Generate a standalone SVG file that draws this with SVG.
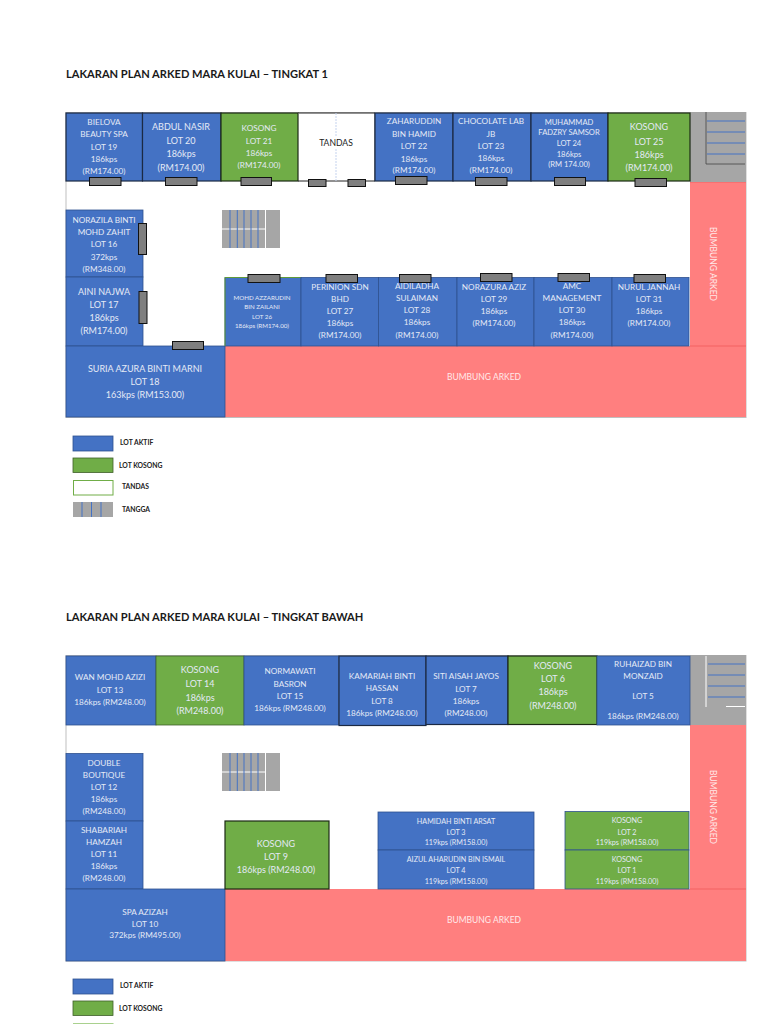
<svg xmlns="http://www.w3.org/2000/svg" width="768" height="1024" viewBox="0 0 768 1024">
<style>
text{font-family:"Lato","Liberation Sans",sans-serif;text-anchor:middle;dominant-baseline:central;fill:#e4eaf6;font-size:9px}
.title{font-weight:700;font-size:11.1px;fill:#1a1a1a;text-anchor:start}
.leg{font-size:6.8px;fill:#222;font-weight:700;text-anchor:start}
.s{font-size:7.6px}.xs{font-size:6.2px}.xt{font-size:7.2px}.m{font-size:8.2px}.l{font-size:9.5px}
.rf{font-size:8.5px;fill:#ffe9e9}
.a{fill:#4472c4;stroke:#2f528f;stroke-width:.8}
.ak{fill:#4472c4;stroke:#1b2a44;stroke-width:1.2}
.g{fill:#70ad47;stroke:#3f5f2a;stroke-width:.8}
.gk{fill:#70ad47;stroke:#1c2a14;stroke-width:1.2}
.gb{fill:#70ad47;stroke:#2f528f;stroke-width:.8}
.roof{fill:#ff7f7f}
.door{fill:#7f7f7f;stroke:#111;stroke-width:1}
.st{fill:#a6a6a6}
.bl{stroke:#4472c4;stroke-width:1}
.wl{stroke:#fff;stroke-width:1}
.edge{fill:#fff;stroke:#bfbfbf;stroke-width:1}
</style>
<defs>
<g id="stair"><rect class="st" x="222" y="0" width="43" height="38"/><rect class="st" x="266" y="0" width="14" height="38"/><path class="wl" d="M222 19H265"/><path class="bl" d="M230 0V38M237.300 0V38M244 0V38M251 0V38M258 0V38"/></g>
</defs>

<g id="title-1"><text class="title" x="66" y="73">LAKARAN PLAN ARKED MARA KULAI – TINGKAT 1</text></g>
<rect class="edge" x="66" y="112.500" width="680" height="305"/>

<g id="roof-1"><rect class="roof" x="225" y="346" width="521" height="71"/><rect class="roof" x="690" y="182" width="56" height="164"/><path d="M690 346H746" stroke="#f05a5a" stroke-width=".8"/><path d="M690 182H746" stroke="#f05a5a" stroke-width=".8"/>
<text x="484" y="377" class="rf">BUMBUNG ARKED</text><text class="rf" transform="translate(713 264) rotate(90)">BUMBUNG ARKED</text></g>

<g id="stairs-1a"><rect class="st" x="690" y="112" width="56" height="70"/><path d="M706 112V164H745" fill="none" stroke="#444" stroke-width=".8"/><path class="bl" d="M707 121H745M707 132H745M707 143H745M707 154H745"/></g>

<g id="lot19"><rect class="ak" x="66" y="113" width="76.500" height="68"/><text x="104" y="122" class="m">BIELOVA</text><text x="104" y="134" class="m">BEAUTY SPA</text><text x="104" y="146.500" class="m">LOT 19</text><text x="104" y="159" class="m">186kps</text><text x="104" y="171" class="m">(RM174.00)</text></g>
<g id="lot20"><rect class="ak" x="142.500" y="113" width="78.500" height="68"/><text x="181" y="126">ABDUL NASIR</text><text x="181" y="140">LOT 20</text><text x="181" y="153">186kps</text><text x="181" y="167">(RM174.00)</text></g>
<g id="lot21"><rect class="gk" x="221" y="113" width="77" height="68"/><text x="259" y="128" class="m">KOSONG</text><text x="259" y="141" class="m">LOT 21</text><text x="259" y="153" class="m">186kps</text><text x="259" y="165" class="m">(RM174.00)</text></g>
<g id="tandas"><path d="M298 113H375V181" fill="#fff" stroke="#222" stroke-width="1"/><path d="M298 181H375" stroke="#222" stroke-width="1"/><path d="M336 113V181" stroke="#c5d3ee" stroke-width="1" stroke-dasharray="2 1"/><rect x="318" y="137" width="36" height="11" fill="#fff"/><text x="336" y="142.500" class="m" style="fill:#222;font-size:8.6px">TANDAS</text></g>
<g id="lot22"><rect class="ak" x="375" y="113" width="78" height="68"/><text x="414" y="121" class="m">ZAHARUDDIN</text><text x="414" y="133.500" class="m">BIN HAMID</text><text x="414" y="146" class="m">LOT 22</text><text x="414" y="158.500" class="m">186kps</text><text x="414" y="170" class="m">(RM174.00)</text></g>
<g id="lot23"><rect class="ak" x="453" y="113" width="78" height="68"/><text x="491" y="121" class="m">CHOCOLATE LAB</text><text x="491" y="134" class="m">JB</text><text x="491" y="146" class="m">LOT 23</text><text x="491" y="158" class="m">186kps</text><text x="491" y="170" class="m">(RM174.00)</text></g>
<g id="lot24"><rect class="ak" x="531" y="113" width="77" height="68"/><text x="569" y="121.500" class="s">MUHAMMAD</text><text x="569" y="131.500" class="s">FADZRY SAMSOR</text><text x="569" y="143" class="s">LOT 24</text><text x="569" y="154" class="s">186kps</text><text x="569" y="164" class="s">(RM 174.00)</text></g>
<g id="lot25"><rect class="gk" x="608" y="113" width="82" height="68"/><text x="649" y="126">KOSONG</text><text x="649" y="141">LOT 25</text><text x="649" y="154">186kps</text><text x="649" y="167">(RM174.00)</text></g>

<g id="stairs-1b"><use href="#stair" y="210"/></g>

<g id="lot16"><rect class="a" x="66" y="210" width="77" height="67"/><text x="104" y="220" class="m">NORAZILA BINTI</text><text x="104" y="231.500" class="m">MOHD ZAHIT</text><text x="104" y="244" class="m">LOT 16</text><text x="104" y="256.500" class="m">372kps</text><text x="104" y="269" class="m">(RM348.00)</text></g>
<g id="lot17"><rect class="a" x="66" y="277" width="77" height="69"/><text x="104" y="291">AINI NAJWA</text><text x="104" y="304">LOT 17</text><text x="104" y="317.500">186kps</text><text x="104" y="330.500">(RM174.00)</text></g>
<g id="lot18"><rect class="a" x="66" y="346" width="159" height="71"/><text x="145" y="368">SURIA AZURA BINTI MARNI</text><text x="145" y="381">LOT 18</text><text x="145" y="394">163kps (RM153.00)</text></g>
<g id="lot26"><rect class="a" x="225" y="277.500" width="76" height="68.500"/><path d="M225 346V277.500H301" fill="none" stroke="#5f9a3a" stroke-width="1"/><text x="262" y="297" class="xs">MOHD AZZARUDIN</text><text x="262" y="306" class="xs">BIN ZAILANI</text><text x="262" y="316" class="xs">LOT 26</text><text x="262" y="325" class="xs">186kps (RM174.00)</text></g>
<g id="lot27"><rect class="a" x="301" y="277.500" width="77.500" height="68.500"/><text x="340" y="287" class="m">PERINION SDN</text><text x="340" y="299" class="m">BHD</text><text x="340" y="311" class="m">LOT 27</text><text x="340" y="323" class="m">186kps</text><text x="340" y="335" class="m">(RM174.00)</text></g>
<g id="lot28"><rect class="a" x="378.500" y="277.500" width="78.500" height="68.500"/><text x="417" y="286" class="m">AIDILADHA</text><text x="417" y="298" class="m">SULAIMAN</text><text x="417" y="310" class="m">LOT 28</text><text x="417" y="322" class="m">186kps</text><text x="417" y="335" class="m">(RM174.00)</text></g>
<g id="lot29"><rect class="a" x="457" y="277.500" width="77" height="68.500"/><text x="494" y="287" class="m">NORAZURA AZIZ</text><text x="494" y="299" class="m">LOT 29</text><text x="494" y="311" class="m">186kps</text><text x="494" y="323" class="m">(RM174.00)</text></g>
<g id="lot30"><rect class="a" x="534" y="277.500" width="78" height="68.500"/><text x="572" y="286" class="m">AMC</text><text x="572" y="298" class="m">MANAGEMENT</text><text x="572" y="310" class="m">LOT 30</text><text x="572" y="322" class="m">186kps</text><text x="572" y="335" class="m">(RM174.00)</text></g>
<g id="lot31"><rect class="a" x="612" y="277.500" width="77" height="68.500"/><text x="649" y="287" class="m">NURUL JANNAH</text><text x="649" y="299" class="m">LOT 31</text><text x="649" y="311" class="m">186kps</text><text x="649" y="323" class="m">(RM174.00)</text></g>

<g id="doors-1">
<rect class="door" x="89.500" y="177.500" width="31.500" height="8"/><rect class="door" x="165.500" y="177.500" width="31.500" height="8"/><rect class="door" x="241" y="177.500" width="30.500" height="8"/><rect class="door" x="308.500" y="179.500" width="17.500" height="7"/><rect class="door" x="348" y="179.500" width="17.500" height="7"/><rect class="door" x="395.500" y="176.500" width="31.500" height="8"/><rect class="door" x="475.500" y="177.500" width="31.500" height="8"/><rect class="door" x="554.500" y="177.500" width="31" height="8"/><rect class="door" x="635" y="178.500" width="31.500" height="8"/>
<rect class="door" x="138.500" y="223.500" width="8" height="31"/><rect class="door" x="139" y="291.500" width="8" height="32"/><rect class="door" x="172.500" y="341.500" width="31" height="8"/>
<rect class="door" x="248" y="274.500" width="32" height="8"/><rect class="door" x="326" y="274.500" width="31.500" height="8"/><rect class="door" x="399.500" y="274.500" width="31.500" height="8"/><rect class="door" x="480.500" y="273.500" width="31.500" height="8"/><rect class="door" x="558" y="273.500" width="31.500" height="8"/><rect class="door" x="634" y="274.500" width="31.500" height="8"/>
</g>

<g id="legend-1">
<rect class="a" x="73" y="436" width="40" height="15"/><text class="leg" x="120" y="442">LOT AKTIF</text>
<rect class="g" x="73" y="458" width="40" height="14.500"/><text class="leg" x="119" y="464.500">LOT KOSONG</text>
<rect x="73.500" y="480.500" width="39.500" height="14.500" fill="#fff" stroke="#70ad47" stroke-width="1"/><text class="leg" x="122" y="486">TANDAS</text>
<rect class="st" x="73" y="502" width="40" height="15"/><path class="bl" d="M82 502V517M91.500 502V517M101 502V517"/><text class="leg" x="122" y="509">TANGGA</text>
</g>

<g id="title-2"><text class="title" x="66" y="616">LAKARAN PLAN ARKED MARA KULAI – TINGKAT BAWAH</text></g>
<rect class="edge" x="66" y="655.500" width="680" height="305.500"/>

<g id="roof-2"><rect class="roof" x="225" y="889" width="521" height="72"/><rect class="roof" x="690" y="725" width="56" height="164"/><path d="M690 889H746" stroke="#f05a5a" stroke-width=".8"/>
<text x="484" y="920" class="rf">BUMBUNG ARKED</text><text class="rf" transform="translate(713 807) rotate(90)">BUMBUNG ARKED</text></g>

<g id="stairs-2a"><rect class="st" x="690" y="655" width="56" height="70"/><path d="M706 656V707M726 706.500H745" fill="none" stroke="#fff" stroke-width="1"/><path class="bl" d="M708 664H745M708 675H745M708 686H745M708 697H745"/></g>

<g id="lot13"><rect class="a" x="66" y="656" width="90" height="69"/><text x="110" y="677" class="m">WAN MOHD AZIZI</text><text x="110" y="690" class="m">LOT 13</text><text x="110" y="702" class="m">186kps (RM248.00)</text></g>
<g id="lot14"><rect class="g" x="156" y="656" width="88" height="69"/><text x="200" y="669">KOSONG</text><text x="200" y="683">LOT 14</text><text x="200" y="697">186kps</text><text x="200" y="710">(RM248.00)</text></g>
<g id="lot15"><rect class="a" x="244" y="656" width="94.500" height="69"/><text x="290" y="671" class="m">NORMAWATI</text><text x="290" y="683.500" class="m">BASRON</text><text x="290" y="696" class="m">LOT 15</text><text x="290" y="708" class="m">186kps (RM248.00)</text></g>
<g id="lot8"><rect class="ak" x="339" y="656" width="87" height="69.500"/><text x="382" y="676" class="m">KAMARIAH BINTI</text><text x="382" y="688" class="m">HASSAN</text><text x="382" y="701" class="m">LOT 8</text><text x="382" y="713" class="m">186kps (RM248.00)</text></g>
<g id="lot7"><rect class="ak" x="426" y="656" width="82" height="68.500"/><text x="466" y="676" class="m">SITI AISAH JAYOS</text><text x="466" y="688.500" class="m">LOT 7</text><text x="466" y="701" class="m">186kps</text><text x="466" y="713" class="m">(RM248.00)</text></g>
<g id="lot6"><rect class="gk" x="508" y="656" width="89" height="68.500"/><text x="553" y="665">KOSONG</text><text x="553" y="678">LOT 6</text><text x="553" y="691">186kps</text><text x="553" y="705">(RM248.00)</text></g>
<g id="lot5"><rect class="a" x="597" y="656" width="93" height="69"/><text x="643" y="664" class="m">RUHAIZAD BIN</text><text x="643" y="676" class="m">MONZAID</text><text x="643" y="696" class="m">LOT 5</text><text x="643" y="716" class="m">186kps (RM248.00)</text></g>

<g id="stairs-2b"><use href="#stair" y="753"/></g>

<g id="lot12"><rect class="a" x="66" y="753.500" width="77" height="67.500"/><text x="104" y="763" class="m">DOUBLE</text><text x="104" y="774.500" class="m">BOUTIQUE</text><text x="104" y="786.500" class="m">LOT 12</text><text x="104" y="799" class="m">186kps</text><text x="104" y="811" class="m">(RM248.00)</text></g>
<g id="lot11"><rect class="a" x="66" y="821" width="77" height="68"/><text x="104" y="830" class="m">SHABARIAH</text><text x="104" y="842" class="m">HAMZAH</text><text x="104" y="853.500" class="m">LOT 11</text><text x="104" y="866" class="m">186kps</text><text x="104" y="877.500" class="m">(RM248.00)</text></g>
<g id="lot10"><rect class="a" x="66" y="889" width="159" height="72"/><text x="145" y="912" class="m">SPA AZIZAH</text><text x="145" y="924" class="m">LOT 10</text><text x="145" y="935" class="m">372kps (RM495.00)</text></g>
<g id="lot9"><rect class="gk" x="225" y="821" width="104" height="68"/><text x="276" y="843">KOSONG</text><text x="276" y="856.500">LOT 9</text><text x="276" y="869.500">186kps (RM248.00)</text></g>
<g id="lot3"><rect class="a" x="378" y="812" width="156" height="38"/><text x="456" y="821" class="xt">HAMIDAH BINTI ARSAT</text><text x="456" y="832" class="xt">LOT 3</text><text x="456" y="842.500" class="xt">119kps (RM158.00)</text></g>
<g id="lot4"><rect class="a" x="378" y="850" width="156" height="39"/><text x="456" y="859" class="xt">AIZUL AHARUDIN BIN ISMAIL</text><text x="456" y="870" class="xt">LOT 4</text><text x="456" y="881" class="xt">119kps (RM158.00)</text></g>
<g id="lot2"><rect class="gb" x="565" y="811.500" width="124" height="38.500"/><text x="627" y="820" class="xt">KOSONG</text><text x="627" y="832" class="xt">LOT 2</text><text x="627" y="842" class="xt">119kps (RM158.00)</text></g>
<g id="lot1"><rect class="gb" x="565" y="850" width="124" height="39"/><text x="627" y="859" class="xt">KOSONG</text><text x="627" y="870" class="xt">LOT 1</text><text x="627" y="881" class="xt">119kps (RM158.00)</text></g>

<g id="legend-2">
<rect class="a" x="73" y="979" width="40" height="15"/><text class="leg" x="120" y="985">LOT AKTIF</text>
<rect class="g" x="73" y="1001" width="40" height="14.500"/><text class="leg" x="119" y="1007.500">LOT KOSONG</text>
<rect x="73.500" y="1023.500" width="39.500" height="14.500" fill="#fff" stroke="#a9d18e" stroke-width="1"/>
</g>
</svg>
